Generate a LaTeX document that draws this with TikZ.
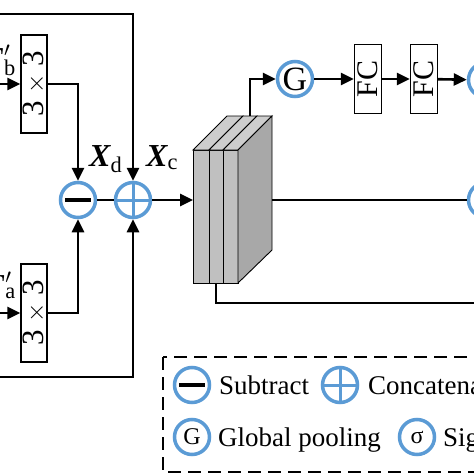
\documentclass[tikz,border=0pt]{standalone}
\usepackage{amsmath}
\usepackage{fontspec}
\setmainfont{Liberation Serif}
\usetikzlibrary{arrows.meta}
\definecolor{opblue}{RGB}{91,155,213}
\definecolor{slabfront}{RGB}{192,192,192}
\definecolor{slabtop}{RGB}{205,205,205}
\definecolor{slabside}{RGB}{168,168,168}

\begin{document}
\begin{tikzpicture}[
  x=1pt,y=-1pt,
  line/.style={line width=2.6pt},
  arr/.style={line width=2.6pt,-{Triangle[length=13pt,width=12pt]}},
  op/.style={circle,draw=opblue,line width=3.5pt,minimum size=35pt,inner sep=0pt,fill=white},
  conv/.style={rectangle,draw=black,line width=1.3pt,minimum width=26pt,minimum height=98pt,inner sep=0pt,font=\fontsize{31}{31}\selectfont},
  fcbox/.style={rectangle,draw=black,line width=1.3pt,minimum width=27pt,minimum height=69pt,inner sep=0pt,font=\fontsize{30}{30}\selectfont},
  var/.style={inner sep=0pt,font=\fontsize{32}{32}\selectfont},
  legtext/.style={anchor=base west,inner sep=0pt,font=\fontsize{27}{27}\selectfont}
]

\def\subop(#1)#2;{
  \node[op] (#1) at #2 {};
  \draw[line width=3.5pt] (#1.center) ++(-13,0) -- ++(26,0);
}
\def\catop(#1)#2;{
  \node[op] (#1) at #2 {};
  \draw[opblue,line width=3pt] (#1.north) -- (#1.south) (#1.west) -- (#1.east);
}

\useasboundingbox (0,0) rectangle (474,474);
\clip (0,0) rectangle (474,474);

% two 3x3 branches
\node[conv] (cb) at (34,84) {\rotatebox{90}{3 $\times$ 3}};
\node[conv] (ca) at (34,313) {\rotatebox{90}{3 $\times$ 3}};
\node[var,anchor=south east] at (16,76) {$\boldsymbol{F}'_{\mathrm{b}}$};
\node[var,anchor=south east] at (16,299) {$\boldsymbol{F}'_{\mathrm{a}}$};
\coordinate (inb) at (0,84);
\coordinate (ina) at (0,313);
\coordinate (tl) at (0,14);
\coordinate (bl) at (0,377);

\subop(sub)(78,200);
\catop(cat)(133,200);

\draw[arr] (inb) -- (cb);
\draw[arr] (ina) -- (ca);
\draw[arr] (cb.east) -| (sub.north);
\draw[arr] (ca.east) -| (sub.south);
\draw[arr] (tl) -| (cat.north);
\draw[arr] (bl) -| (cat.south);
\draw[line] (sub) -- (cat);

\node[var,anchor=base west] at (89,166) {{\bfseries\itshape X}\textsubscript{d}};
\node[var,anchor=base west] at (146,166) {{\bfseries\itshape X}\textsubscript{c}};

% feature block
\foreach \a/\b in {193/209,209/223,223/238} {
  \draw[line width=0.9pt,fill=slabfront] (\a,150) rectangle (\b,283);
  \draw[line width=0.9pt,fill=slabtop] (\a,150) -- (\a+34,116) -- (\b+34,116) -- (\b,150) -- cycle;
}
\draw[line width=0.9pt,fill=slabside] (238,150) -- (272,116) -- (272,250) -- (238,283) -- cycle;
\coordinate (cin) at (193,200);
\coordinate (ctop) at (250,116);
\coordinate (cside) at (272,200);
\coordinate (cbot) at (216,283);
\coordinate (br) at (490,303);

\draw[arr] (cat) -- (cin);

% attention branch
\node[op,font=\fontsize{34}{34}\selectfont] (gp) at (295,79) {G};
\node[fcbox] (fc1) at (368,79) {\rotatebox{90}{FC}};
\node[fcbox] (fc2) at (424,79) {\rotatebox{90}{FC}};
\node[op,font=\fontsize{28}{28}\selectfont] (sg) at (486,80) {σ};
\node[op] (ml) at (486,200) {};

\draw[arr] (ctop) |- (gp);
\draw[arr] (gp) -- (fc1);
\draw[arr] (fc1) -- (fc2);
\draw[arr] (fc2) -- (sg);
\draw[line] (cside) -- (ml);
\draw[line] (cbot) |- (br);

% legend
\draw[line width=2.6pt,dash pattern=on 13pt off 7pt] (163,357) rectangle (500,472);
\subop(lsub)(192,385);
\catop(lcat)(340,385);
\node[op,font=\fontsize{24}{24}\selectfont] (lgp) at (192,437) {G};
\node[op,font=\fontsize{24}{24}\selectfont] (lsg) at (417,437) {σ};
\node[legtext] at (219,394) {Subtract};
\node[legtext] at (368,394) {Concatenate};
\node[legtext] at (218,446) {Global pooling};
\node[legtext] at (443,446) {Sigmoid};

\end{tikzpicture}
\end{document}
